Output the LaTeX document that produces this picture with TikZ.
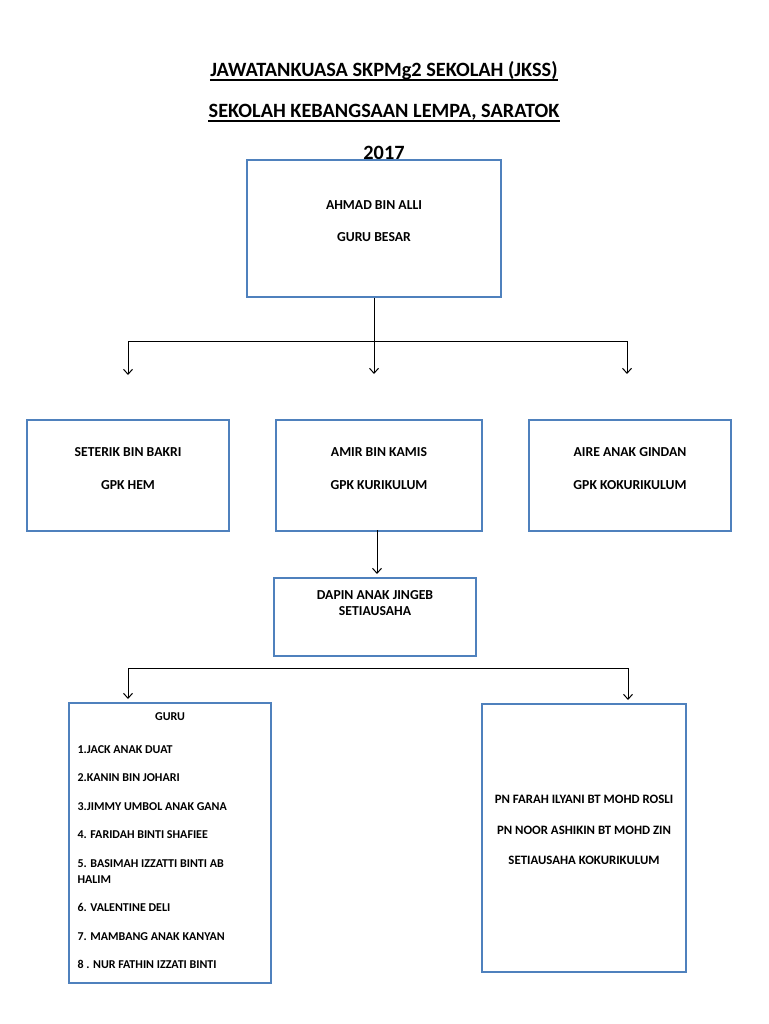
\documentclass[tikz,border=0pt]{standalone}
\usepackage{fontspec}
\setmainfont{Carlito}
\usetikzlibrary{arrows.meta,calc}
\definecolor{boxblue}{RGB}{79,129,189}

\begin{document}
\begin{tikzpicture}[x=1pt,y=-1pt,
    box/.style={draw=boxblue, line width=2pt, fill=white, inner sep=0pt},
    txt/.style={font=\bfseries\fontsize{13.7}{16}\selectfont, align=center, inner sep=0pt},
    list/.style={font=\bfseries\fontsize{12}{16}\selectfont, align=left, inner sep=0pt},
    heading/.style={font=\bfseries\fontsize{20.3}{22}\selectfont, inner sep=0pt, anchor=base},
    >={Straight Barb[length=5pt,width=9pt]}, line width=1pt]
            \useasboundingbox (0,0) rectangle (768,1024);

            % title
            \node[heading] (t1) at (384,77) {JAWATANKUASA SKPMg2 SEKOLAH (JKSS)};
            \node[heading] (t2) at (384,118) {SEKOLAH KEBANGSAAN LEMPA, SARATOK};
            \node[heading] (t3) at (384,160) {2017};
            \draw[line width=1.3pt] ([yshift=-3pt]t1.base west) -- ([yshift=-3pt]t1.base east);
            \draw[line width=1.3pt] ([yshift=-3pt]t2.base west) -- ([yshift=-3pt]t2.base east);

            % guru besar
            \node[box, minimum width=254, minimum height=137] (kb) at (374,228.5) {};
            \node[txt] (kbt) at (374,221) {AHMAD BIN ALLI\\[16pt]GURU BESAR};

            \coordinate (tl) at (128,341);
            \coordinate (tr) at (627,341);
            \coordinate (e1) at (128,375);
            \coordinate (e2) at (374,374);
            \coordinate (e3) at (627,374);
            \draw (tl) -- (tr);
            \draw[->] (kb.south) -- (e2);
            \draw[->] (tl) -- (e1);
            \draw[->] (tr) -- (e3);

            % penolong kanan
            \node[box, minimum width=202, minimum height=111] (hb) at (128,475.5) {};
            \node[txt] (hbt) at (128,468.5) {SETERIK BIN BAKRI\\[17pt]GPK HEM};
            \node[box, minimum width=206, minimum height=111] (mb) at (379,475.5) {};
            \node[txt] (mbt) at (379,468.5) {AMIR BIN KAMIS\\[17pt]GPK KURIKULUM};
            \node[box, minimum width=202, minimum height=111] (ab) at (630,475.5) {};
            \node[txt] (abt) at (630,468.5) {AIRE ANAK GINDAN\\[17pt]GPK KOKURIKULUM};

            % setiausaha
            \node[box, minimum width=202, minimum height=78] (db) at (375,617) {};
            \node[txt] (dbt) at (375,603) {DAPIN ANAK JINGEB\\SETIAUSAHA};
            \draw[->, shorten >=3pt] (db.north -| 377,0) ++(0,-47) -- (db.north -| 377,0);

            \coordinate (bl) at (128,668);
            \coordinate (br) at (628,668);
            \draw (bl) -- (br);

            % guru
            \node[box, minimum width=202, minimum height=280] (gb) at (170,843) {};
            \node[list] (gbt) at (170,717) {GURU};
            \node[list, anchor=west] (gl) at (77,857) {1.JACK ANAK DUAT\\[12.5pt]
                2.KANIN BIN JOHARI\\[12.5pt]
                3.JIMMY UMBOL ANAK GANA\\[12.5pt]
                4. FARIDAH BINTI SHAFIEE\\[12.5pt]
                5. BASIMAH IZZATTI BINTI AB\\
                HALIM\\[12.5pt]
                6. VALENTINE DELI\\[12.5pt]
                7. MAMBANG ANAK KANYAN\\[12.5pt]
                8 . NUR FATHIN IZZATI BINTI};

            % kokurikulum
            \node[box, minimum width=204, minimum height=268] (pb) at (584,838) {};
            \node[txt, font=\bfseries\fontsize{12.8}{16}\selectfont] (pbt) at (584,830) {PN FARAH ILYANI BT MOHD ROSLI\\[14.5pt]
                PN NOOR ASHIKIN BT MOHD ZIN\\[14.5pt]
                SETIAUSAHA KOKURIKULUM};

            \draw[->, shorten >=3pt] (bl) -- (bl |- gb.north);
            \draw[->, shorten >=3pt] (br) -- (br |- pb.north);
        \end{tikzpicture}
\end{document}
